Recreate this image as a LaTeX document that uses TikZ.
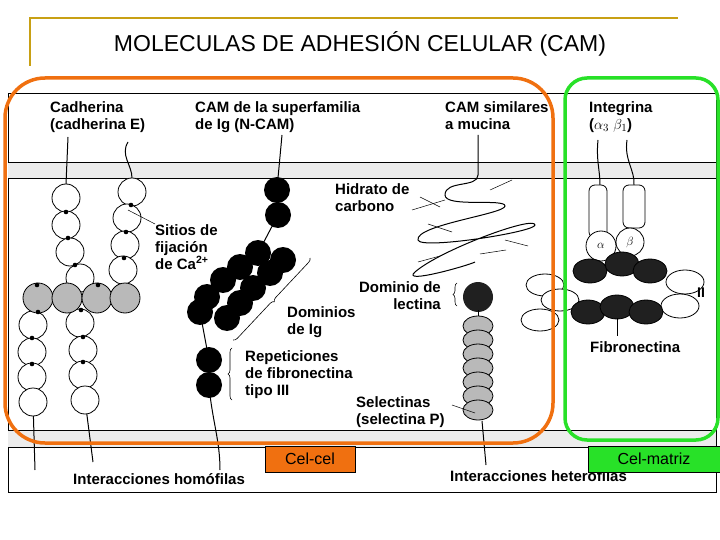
\documentclass[tikz,border=0pt]{standalone}
\usepackage{fontspec}
\setmainfont{Liberation Sans}
\usetikzlibrary{decorations.pathreplacing,shapes.geometric}
\definecolor{gold}{RGB}{200,160,20}
\definecolor{camorange}{RGB}{240,112,16}
\definecolor{camgreen}{RGB}{40,225,40}
\tikzset{
  lbl/.style={font=\bfseries\fontsize{15}{17}\selectfont, align=left, inner sep=0pt, anchor=north west},
  wcirc/.style={draw, fill=white, line width=0.8pt},
  gcirc/.style={draw, fill=gray!55, line width=0.8pt},
  dark/.style={draw, fill=gray!25!black, line width=0.8pt},
  strand/.style={line width=1pt},
  brace/.style={decorate, decoration={brace, amplitude=4pt}, line width=0.6pt},
}
\begin{document}
\begin{tikzpicture}[x=1pt,y=-1pt]
  \useasboundingbox (0,0) rectangle (720,540);
  % title
  \draw[gold, line width=1.5pt] (30,66) -- (30,18) -- (678,18);
  \node[font=\fontsize{23}{26}\selectfont] (title) at (360,44) {MOLECULAS DE ADHESIÓN CELULAR (CAM)};
  % frame and membranes
  \draw[line width=0.6pt] (8,93) rectangle (716,492);
  \fill[gray!15] (8,162) rectangle (716,178);
  \fill[gray!15] (8,430) rectangle (716,447);
  \foreach \y in {162,178,430,447}
    \draw[line width=0.7pt] (8,\y) -- (716,\y);

  % cadherinas
  \draw[strand] (68,137) -- (66,184);
  \draw[strand] (128,142) .. controls (120,155) and (132,165) .. (132,178);
  \draw[strand] (33,402) -- (35,470);
  \draw[strand] (85,400) -- (93,462);
  \foreach \x/\y [count=\i] in {66/198,66/225,70/252,80/278}
    \node[wcirc, circle, minimum size=28pt] (cu\i) at (\x,\y) {};
  \foreach \x/\y [count=\i] in {132/192,127/218,125/245,123/270}
    \node[wcirc, circle, minimum size=28pt] (cv\i) at (\x,\y) {};
  \foreach \x/\y [count=\i] in {33/325,32/352,32/377,33/402}
    \node[wcirc, circle, minimum size=28pt] (cl\i) at (\x,\y) {};
  \foreach \x/\y [count=\i] in {80/323,83/350,83/375,85/400}
    \node[wcirc, circle, minimum size=28pt] (cr\i) at (\x,\y) {};
  \foreach \x [count=\i] in {38,67,97,125}
    \node[gcirc, circle, minimum size=30pt] (cg\i) at (\x,298) {};
  \foreach \x/\y in {66/212,68/238,75/265,131/205,126/232,124/258,38/312,32/338,32/364,81/310,83/337,83/362,37/285,98/285}
    \fill (\x,\y) circle (2.3pt);

  % N-CAM
  \draw[strand] (282,135) -- (278,178);
  \draw[strand] (209,385) .. controls (212,420) and (220,440) .. (220,470);
  \draw[strand] (278,215) -- (258,253) (200,312) -- (209,360);
  \foreach \x/\y in {277/190,278/215,258/253,240/267,223/280,207/297,200/312,283/260,270/273,253/288,240/303,227/318,209/360,209/385}
    \fill[black] (\x,\y) circle (13pt);

  % mucina
  \draw[strand] (478,135) -- (478,175) .. controls (478,188) and (445,180) .. (445,195)
    .. controls (445,208) and (505,198) .. (505,206)
    .. controls (505,214) and (415,225) .. (418,240)
    .. controls (420,250) and (535,232) .. (535,225)
    .. controls (535,215) and (440,250) .. (415,272)
    .. controls (400,285) and (470,265) .. (475,262);
  \foreach \a/\b/\c/\d in {412/210/445/200,490/190/512/180,428/224/452/232,505/240/528/246,418/262/440/256,480/254/506/250}
    \draw[line width=0.5pt] (\a,\b) -- (\c,\d);

  % selectina
  \fill[gray!25!black] (478,297) circle (15pt);
  \draw[strand] (478,310) -- (478,320);
  \foreach \y in {326,340,354,368,382,396,410}
    \node[gcirc, ellipse, minimum width=30pt, minimum height=20pt] at (478,\y) {};
  \draw[strand] (482,421) -- (486,465);

  % integrina
  \draw[strand] (598,140) .. controls (596,160) and (600,170) .. (600,185);
  \draw[strand] (627,140) .. controls (624,160) and (635,170) .. (634,185);
  \draw[wcirc, rounded corners=6pt] (589,185) rectangle (607,238);
  \draw[wcirc, rounded corners=6pt] (623,185) rectangle (645,228);
  \node[wcirc, circle, minimum size=30pt, font=\large] (alpha) at (601,246) {$\alpha$};
  \node[wcirc, circle, minimum size=28pt, font=\large] (beta) at (630,242) {$\beta$};

  % fibronectina
  \foreach \x/\y in {545/285,540/320,560/300}
    \node[wcirc, ellipse, minimum width=38pt, minimum height=22pt] at (\x,\y) {};
  \node[wcirc, ellipse, minimum width=38pt, minimum height=24pt] at (685,282) {};
  \node[wcirc, ellipse, minimum width=38pt, minimum height=24pt] at (680,306) {};
  \foreach \x/\y in {590/271,622/264,650/271,588/312,617/307,646/312}
    \node[dark, ellipse, minimum width=34pt, minimum height=24pt] at (\x,\y) {};
  \draw[line width=0.8pt] (617,318) -- (617,336);
  \node[font=\bfseries\fontsize{14}{16}\selectfont] (two) at (701,293) {II};

  % labels
  \node[lbl] (cad) at (50,101) {Cadherina\\(cadherina E)};
  \node[lbl] (ncam) at (195,101) {CAM de la superfamilia\\de Ig (N-CAM)};
  \node[lbl] (muc) at (445,101) {CAM similares\\a mucina};
  \node[lbl] (integ) at (589,101) {Integrina\\($\alpha_3$ $\beta_1$)};
  \node[lbl] (ca) at (155,224) {Sitios de\\fijación\\de Ca\textsuperscript{2+}};
  \draw[line width=0.5pt] (128,210) -- (ca.north west);
  \node[lbl] (hid) at (335,183) {Hidrato de\\carbono};
  \draw[line width=0.5pt] (420,197) -- (440,207);
  \node[lbl, align=right, anchor=north east] (lect) at (441,281) {Dominio de\\lectina};
  \draw[brace] (457,306) -- (457,283);
  \node[lbl] (ig) at (287,306) {Dominios\\de Ig};
  \draw[brace] (310,258) -- (233,340);
  \node[lbl] (rep) at (245,350) {Repeticiones\\de fibronectina\\tipo III};
  \draw[brace] (232,400) -- (232,348);
  \node[lbl] (sel) at (356,396) {Selectinas\\(selectina P)};
  \draw[line width=0.5pt] (452,405) -- (475,413);
  \node[lbl] (fib) at (590,341) {Fibronectina};
  \node[lbl] (homo) at (73,473) {Interacciones homófilas};
  \node[lbl] (hete) at (450,470) {Interacciones heterófilas};

  % groupings
  \draw[camorange, line width=3.5pt, rounded corners=40pt] (5,78) rectangle (553,443);
  \draw[camgreen, line width=3.5pt, rounded corners=22pt] (565,78) rectangle (718,440);
  \node[draw, fill=camorange, minimum width=90pt, minimum height=26pt, font=\fontsize{16}{18}\selectfont] (celcel) at (310,459) {Cel-cel};
  \node[draw, fill=camgreen, minimum width=132pt, minimum height=26pt, font=\fontsize{16}{18}\selectfont] (celmat) at (654,459) {Cel-matriz};
\end{tikzpicture}
\end{document}
